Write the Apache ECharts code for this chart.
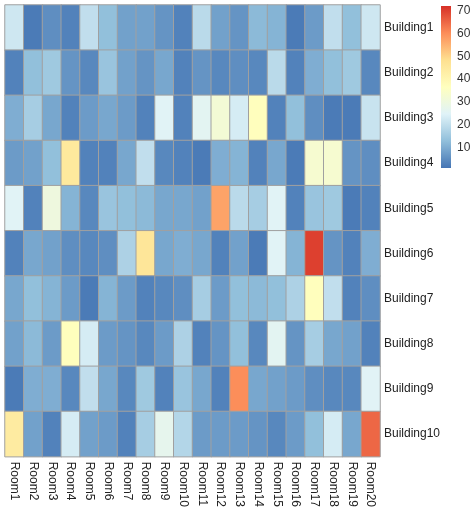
<!DOCTYPE html>
<html><head><meta charset="utf-8">
<script src="https://cdn.jsdelivr.net/npm/echarts@6/dist/echarts.min.js"></script>
<style>html,body{margin:0;padding:0;background:#fff}#c{width:474px;height:510px}</style>
</head><body><div id="c"></div>
<script>
const rooms = Array.from({length:20},(_,i)=>'Room'+(i+1));
const buildings = Array.from({length:10},(_,i)=>'Building'+(i+1));
const b1 = [22,2,5,3,20,13,8,8,6,3,19,8,6,12,11,2,7,20,13,22];
const b2 = [3,13,15,6,4,14,8,6,9,3,6,4,5,4,19,3,10,13,15,4];
const b3 = [10,16,9,3,7,9,7,3,25,3,26,32,23,37,3,13,5,2,2,21];
const b4 = [7,8,13,45,3,3,9,20,4,3,2,10,11,3,9,2,33,33,6,5];
const b5 = [25,3,30,11,4,14,13,12,9,9,8,57,19,16,25,3,14,15,2,3];
const b6 = [3,9,8,5,4,5,17,46,9,10,9,3,8,2,25,11,70,6,3,10];
const b7 = [9,13,11,7,2,11,7,3,4,5,16,7,13,12,13,17,37,20,3,5];
const b8 = [8,12,7,37,23,7,6,4,7,17,3,6,13,4,26,6,16,9,8,3];
const b9 = [2,10,10,4,20,9,4,15,3,14,9,3,60,9,8,7,5,4,4,25];
const b10 = [44,8,3,23,8,7,3,16,27,18,7,7,7,6,4,7,13,23,9,65];
const rows = [b1,b2,b3,b4,b5,b6,b7,b8,b9,b10];
const legendTicks = [10,20,30,40,50,60,70];
const vMin = 1, vMax = 72;
const palette = ['#4575B4','#91BFDB','#E0F3F8','#FFFFBF','#FEE090','#FC8D59','#D73027'];
const data = [];
rows.forEach((r,j)=>r.forEach((v,i)=>data.push([i,j,v])));
const font = 'Liberation Sans';
const grad = new echarts.graphic.LinearGradient(0,1,0,0,
  palette.map((c,i)=>({offset:i/(palette.length-1),color:c})));
const chart = echarts.init(document.getElementById('c'));
chart.setOption({
  animation:false,
  textStyle:{fontFamily:font},
  grid:[{left:5,top:5,width:375,height:455},{left:441,top:6,width:10,height:162}],
  xAxis:[{type:'category',data:rooms,gridIndex:0,axisLine:{show:false},axisTick:{show:false},
    axisLabel:{rotate:-90,color:'#222',fontSize:12,fontFamily:font,margin:5},splitLine:{show:false}},
    {type:'category',data:['scale'],gridIndex:1,show:false}],
  yAxis:[{type:'category',data:buildings,inverse:true,position:'right',gridIndex:0,axisLine:{show:false},axisTick:{show:false},
    axisLabel:{color:'#222',fontSize:12,fontFamily:font,margin:4}},
    {type:'value',gridIndex:1,min:vMin,max:vMax,position:'right',axisLine:{show:false},axisTick:{show:false},splitLine:{show:false},
     axisLabel:{customValues:legendTicks,color:'#333',fontSize:12,fontFamily:font,margin:6}}],
  visualMap:{type:'continuous',min:vMin,max:vMax,seriesIndex:0,show:false,inRange:{color:palette}},
  series:[{type:'heatmap',xAxisIndex:0,yAxisIndex:0,data:data,
    itemStyle:{borderColor:'#a0a0a0',borderWidth:1}},
    {type:'bar',xAxisIndex:1,yAxisIndex:1,data:[vMax],barWidth:'100%',itemStyle:{color:grad},silent:true}]
});
</script></body></html>
